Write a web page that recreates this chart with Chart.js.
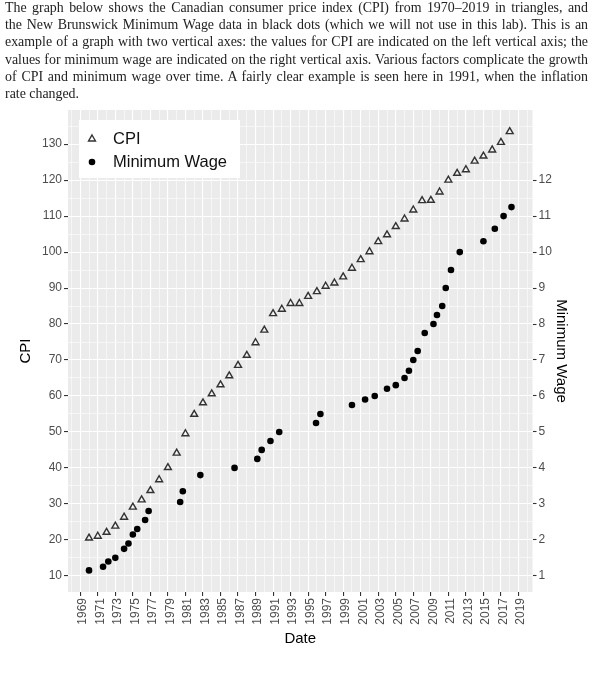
<!DOCTYPE html>
<html><head><meta charset="utf-8">
<script src="https://cdn.jsdelivr.net/npm/chart.js@4.4.1/dist/chart.umd.min.js"></script>
<style>
html,body{margin:0;padding:0;background:#fff;}
#wrap{position:relative;width:594px;height:700px;overflow:hidden;}
#para{position:absolute;left:5px;top:-1px;width:583px;font-family:"Liberation Serif","DejaVu Serif",serif;font-size:14px;line-height:17.2px;color:#222;z-index:2;}
#para div{text-align:justify;text-align-last:justify;}
#para div.last{text-align-last:left;}
#para.measure div{text-align:left;text-align-last:left;}
#para span{white-space:nowrap;}
canvas{position:absolute;left:0;top:0;}
</style></head>
<body>
<div id="wrap">
<div id="para">
<div>The graph below shows the Canadian consumer price index (CPI) from 1970–2019 in triangles, and</div>
<div>the New Brunswick Minimum Wage data in black dots (which we will not use in this lab). This is an</div>
<div>example of a graph with two vertical axes: the values for CPI are indicated on the left vertical axis; the</div>
<div>values for minimum wage are indicated on the right vertical axis. Various factors complicate the growth</div>
<div>of CPI and minimum wage over time. A fairly clear example is seen here in 1991, when the inflation</div>
<div class="last">rate changed.</div>
</div>
<canvas id="c" width="594" height="700"></canvas>
</div>
<script>
// ---- data ----
const cpiYears = [1970,1971,1972,1973,1974,1975,1976,1977,1978,1979,
  1980,1981,1982,1983,1984,1985,1986,1987,1988,1989,
  1990,1991,1992,1993,1994,1995,1996,1997,1998,1999,
  2000,2001,2002,2003,2004,2005,2006,2007,2008,2009,
  2010,2011,2012,2013,2014,2015,2016,2017,2018];
const cpiValues = [20.5,21.0,22.1,23.8,26.3,29.1,31.1,33.7,36.7,40.1,
  44.1,49.5,54.9,58.1,60.6,63.1,65.6,68.5,71.3,74.8,
  78.3,82.9,84.1,85.7,85.7,87.7,89.0,90.5,91.4,93.1,
  95.5,97.9,100.1,102.9,104.8,107.1,109.2,111.7,114.3,114.4,
  116.7,120.0,121.9,122.9,125.3,126.7,128.4,130.5,133.5];
const wageDates = [1970.0,1971.6,1972.2,1973.0,1974.0,1974.5,1975.0,1975.5,1976.4,1976.8,
  1980.4,1980.7,1982.7,1986.6,1989.2,1989.7,1990.7,1991.7,1995.9,1996.4,
  2000.0,2001.5,2002.6,2004.0,2005.0,2006.0,2006.5,2007.0,2007.5,2008.3,
  2009.3,2009.7,2010.3,2010.7,2011.3,2012.3,2015.0,2016.3,2017.3,2018.2];
const wageValues = [1.15,1.25,1.40,1.50,1.75,1.90,2.15,2.30,2.55,2.80,
  3.05,3.35,3.80,4.00,4.25,4.50,4.75,5.00,5.25,5.50,
  5.75,5.90,6.00,6.20,6.30,6.50,6.70,7.00,7.25,7.75,
  8.00,8.25,8.50,9.00,9.50,10.00,10.30,10.65,11.00,11.25];
const cpiTickLabels = [10,20,30,40,50,60,70,80,90,100,110,120,130];
const wageTickLabels = [1,2,3,4,5,6,7,8,9,10,11,12];
const yearTickLabels = [1969,1971,1973,1975,1977,1979,1981,1983,1985,1987,1989,1991,1993,
  1995,1997,1999,2001,2003,2005,2007,2009,2011,2013,2015,2017,2019];
const seriesNames = ['CPI','Minimum Wage'];

// fit paragraph font so the widest line fits
(function(){
  const para = document.getElementById('para');
  const divs = [...para.querySelectorAll('div')];
  divs.forEach(d=>{ d.innerHTML = '<span>'+d.innerHTML+'</span>'; });
  para.classList.add('measure');
  let fs = 14.5;
  for(let k=0;k<60;k++){
    para.style.fontSize = fs+'px';
    const w = Math.max(...divs.map(d=>d.firstChild.getBoundingClientRect().width));
    if (w <= 578) break;
    fs -= 0.1;
  }
  para.classList.remove('measure');
  divs.forEach(d=>{ d.innerHTML = d.firstChild.innerHTML; });
})();

const GRID_BG = '#EBEBEB';
const bgPlugin = {
  id:'panelBg',
  beforeDraw(chart){
    const {ctx, chartArea:a} = chart;
    ctx.save(); ctx.fillStyle = GRID_BG;
    ctx.fillRect(a.left, a.top, a.right-a.left, a.bottom-a.top);
    ctx.restore();
  }
};
const legendPlugin = {
  id:'ggLegend',
  afterDraw(chart){
    const {ctx, chartArea:a} = chart;
    const ds = chart.data.datasets;
    ctx.save();
    ctx.fillStyle = '#fff';
    ctx.fillRect(a.left+11, a.top+10, 161, 58);
    const px = a.left+24, rows = [a.top+29, a.top+52];
    ds.forEach((d,i)=>{
      ctx.save();
      ctx.strokeStyle = d.borderColor; ctx.fillStyle = d.backgroundColor;
      ctx.lineWidth = d.borderWidth;
      Chart.helpers.drawPoint(ctx, {pointStyle:d.pointStyle, radius:d.pointRadius, rotation:0, borderWidth:d.borderWidth}, px, rows[i]);
      ctx.restore();
      ctx.fillStyle = '#111';
      ctx.font = '16.5px "Liberation Sans", Arial, sans-serif';
      ctx.textBaseline = 'middle'; ctx.textAlign = 'left';
      ctx.fillText(d.label, a.left+45, rows[i]+0.5);
    });
    ctx.restore();
  }
};

const tickFont = {family:'"Liberation Sans", Arial, sans-serif', size:12};
const titleFont = {family:'"Liberation Sans", Arial, sans-serif', size:15};

new Chart(document.getElementById('c'), {
  type:'scatter',
  data:{
    datasets:[
      { label:seriesNames[0], data:cpiYears.map((x,i)=>({x, y:cpiValues[i]})), yAxisID:'y',
        pointStyle:'triangle', pointRadius:4, borderWidth:1.4, borderColor:'#333333',
        backgroundColor:'rgba(0,0,0,0)' },
      { label:seriesNames[1], data:wageDates.map((x,i)=>({x, y:wageValues[i]})), yAxisID:'y2',
        pointStyle:'circle', pointRadius:3.3, borderWidth:0, borderColor:'#000',
        backgroundColor:'#000' }
    ]
  },
  options:{
    responsive:false, animation:false, devicePixelRatio:1,
    layout:{padding:{top:110,left:0,right:0,bottom:0}},
    plugins:{legend:{display:false}, tooltip:{enabled:false}},
    scales:{
      x:{
        type:'linear', position:'bottom', min:1967.6, max:2020.6,
        afterBuildTicks(s){ const t=[]; for(let v=1968; v<=2020; v++) t.push({value:v}); s.ticks=t; },
        afterFit(s){ s.height = 108; },
        ticks:{ autoSkip:false, maxRotation:90, minRotation:90, padding:2, labelOffset:2.5,
          color:'#4D4D4D', font:tickFont,
          callback:(v)=> yearTickLabels.includes(v) ? String(v) : '' },
        grid:{ color:'#FFFFFF', lineWidth:(c)=> yearTickLabels.includes(c.tick && c.tick.value) ? 1.1 : 0.55,
          tickLength:4, tickWidth:1.1,
          tickColor:(c)=> yearTickLabels.includes(c.tick && c.tick.value) ? '#333333' : 'rgba(0,0,0,0)' },
        border:{display:false},
        title:{display:true, text:'Date', color:'#000', font:titleFont, padding:{top:0,bottom:52}}
      },
      y:{
        type:'linear', position:'left', min:5.5, max:139.5,
        afterBuildTicks(s){ const t=[]; for(let v=10; v<=135; v+=5) t.push({value:v}); s.ticks=t; },
        afterFit(s){ s.width = 68; },
        ticks:{ autoSkip:false, padding:2, color:'#4D4D4D', font:tickFont,
          callback:(v)=> cpiTickLabels.includes(v) ? String(v) : '' },
        grid:{ color:'#FFFFFF', lineWidth:(c)=> cpiTickLabels.includes(c.tick && c.tick.value) ? 1.1 : 0.55,
          tickLength:4, tickWidth:1.1,
          tickColor:(c)=> cpiTickLabels.includes(c.tick && c.tick.value) ? '#333333' : 'rgba(0,0,0,0)' },
        border:{display:false},
        title:{display:true, text:'CPI', color:'#000', font:titleFont, padding:{top:16.5,bottom:0}}
      },
      y2:{
        type:'linear', position:'right', min:0.55, max:13.95,
        afterBuildTicks(s){ s.ticks = wageTickLabels.map(v=>({value:v})); },
        afterFit(s){ s.width = 61.5; },
        ticks:{ autoSkip:false, padding:2, color:'#4D4D4D', font:tickFont,
          callback:(v)=> String(v) },
        grid:{ drawOnChartArea:false, color:'#333333', tickLength:4, tickWidth:1.1, tickColor:'#333333' },
        border:{display:false},
        title:{display:true, text:'Minimum Wage', color:'#000', font:titleFont, padding:{top:23.5,bottom:0}}
      }
    }
  },
  plugins:[bgPlugin, legendPlugin]
});
</script>
</body></html>
